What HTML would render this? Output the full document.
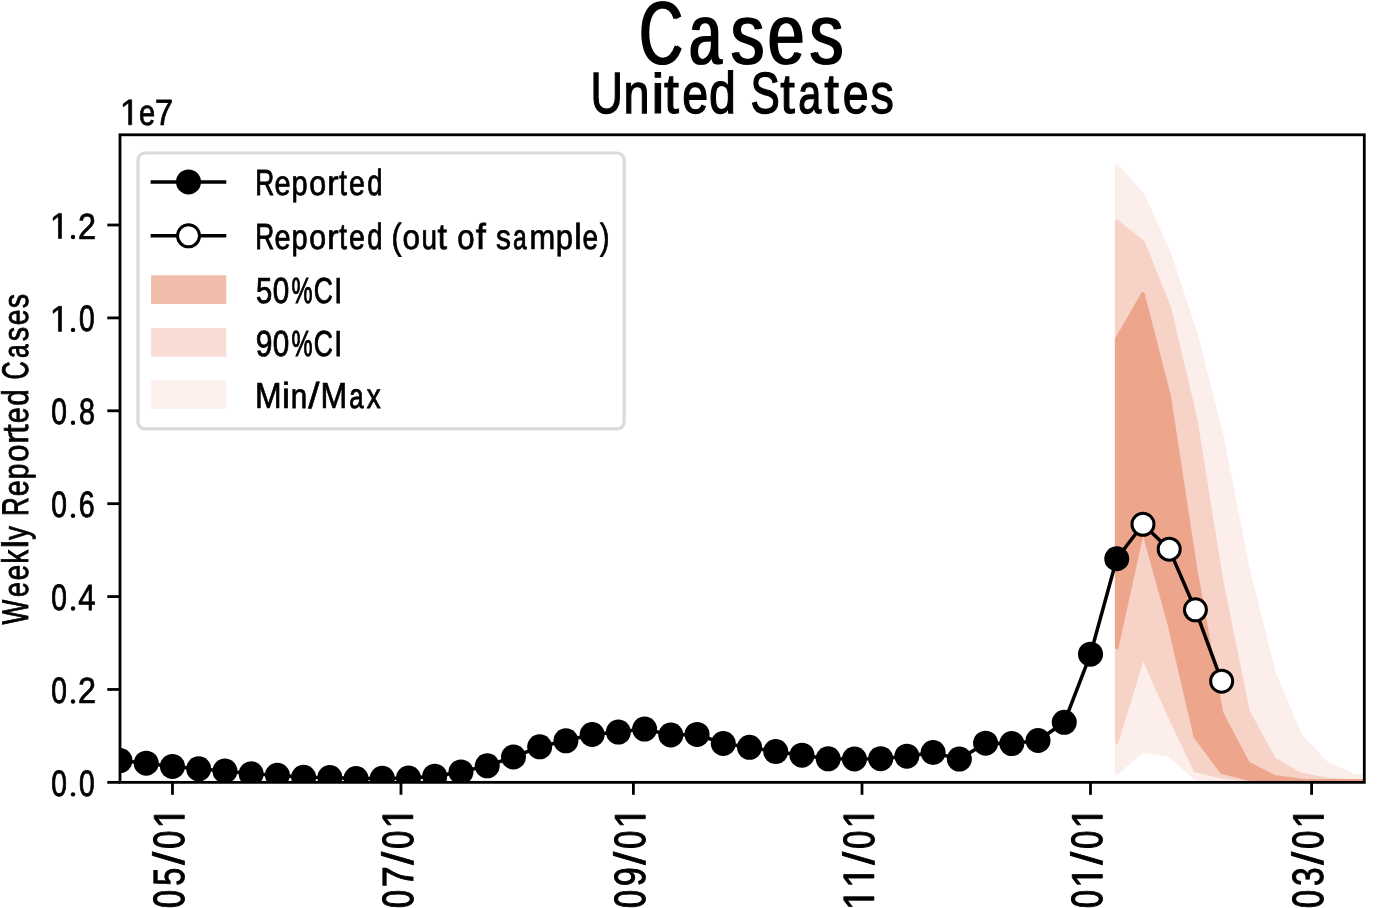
<!DOCTYPE html><html><head><meta charset="utf-8"><style>html,body{margin:0;padding:0;background:#fff;}svg{display:block;will-change:transform;}text{font-family:"Liberation Sans", sans-serif;fill:#000;stroke:#000;-webkit-font-smoothing:antialiased;text-rendering:geometricPrecision;font-kerning:none;font-variant-ligatures:none;}</style></head><body>
<svg width="1400" height="908" viewBox="0 0 1400 908">
<rect x="0" y="0" width="1400" height="908" fill="#fff"/>
<defs><clipPath id="ax"><rect x="120" y="134.8" width="1244.3" height="647.55"/></clipPath></defs>
<g clip-path="url(#ax)">
<polygon points="1116.7,165.5 1142.9,194.9 1169.2,253.2 1195.4,332.2 1221.6,435.2 1247.9,568.2 1274.1,673.2 1300.3,735.2 1326.5,763.2 1352.8,775.2 1379.0,778.2 1379.0,780.8 1352.8,780.8 1326.5,780.8 1300.3,780.8 1274.1,780.8 1247.9,780.6 1221.6,779.8 1195.4,778.3 1169.2,755.2 1142.9,750.9 1116.7,772.9" fill="#fcefeb" stroke="#fcefeb" stroke-width="3.60" stroke-linejoin="round"/>
<polygon points="1116.7,221.4 1142.9,242.1 1169.2,307.2 1195.4,418.2 1221.6,581.2 1247.9,711.2 1274.1,759.2 1300.3,774.2 1326.5,779.2 1352.8,781.2 1379.0,782.2 1379.0,780.8 1352.8,780.8 1326.5,780.8 1300.3,780.8 1274.1,780.6 1247.9,779.8 1221.6,776.8 1195.4,770.6 1169.2,715.4 1142.9,656.8 1116.7,742.1" fill="#f6d2c7" stroke="#f6d2c7" stroke-width="3.60" stroke-linejoin="round"/>
<polygon points="1116.7,339.2 1142.9,294.0 1169.2,396.2 1195.4,568.2 1221.6,713.2 1247.9,763.2 1274.1,776.7 1300.3,780.2 1326.5,782.2 1352.8,782.7 1379.0,783.2 1379.0,780.8 1352.8,780.8 1326.5,780.8 1300.3,780.6 1274.1,780.3 1247.9,778.8 1221.6,772.1 1195.4,736.8 1169.2,623.8 1142.9,528.8 1116.7,647.6" fill="#eda58c" stroke="#eda58c" stroke-width="3.60" stroke-linejoin="round"/>
<polyline points="120.00,760.60 146.23,763.20 172.46,766.40 198.69,768.80 224.92,771.00 251.15,773.80 277.38,775.30 303.61,777.30 329.84,777.50 356.07,778.60 382.30,778.25 408.53,778.10 434.76,776.20 460.99,771.90 487.22,765.80 513.45,757.00 539.68,746.80 565.91,740.80 592.14,734.50 618.37,732.06 644.60,729.10 670.83,735.00 697.06,734.40 723.29,743.50 749.52,747.30 775.75,751.60 801.98,755.15 828.21,758.80 854.44,759.00 880.67,758.70 906.90,756.20 933.13,752.50 959.36,759.10 985.59,743.20 1011.82,743.60 1038.05,740.50 1064.28,722.30 1090.51,654.20 1116.74,558.75 1142.97,524.30 1169.20,549.15 1195.43,609.80 1221.66,681.20" fill="none" stroke="#000" stroke-width="3.5" stroke-linejoin="round"/>
<circle cx="120.00" cy="760.60" r="12.5" fill="#000"/>
<circle cx="146.23" cy="763.20" r="12.5" fill="#000"/>
<circle cx="172.46" cy="766.40" r="12.5" fill="#000"/>
<circle cx="198.69" cy="768.80" r="12.5" fill="#000"/>
<circle cx="224.92" cy="771.00" r="12.5" fill="#000"/>
<circle cx="251.15" cy="773.80" r="12.5" fill="#000"/>
<circle cx="277.38" cy="775.30" r="12.5" fill="#000"/>
<circle cx="303.61" cy="777.30" r="12.5" fill="#000"/>
<circle cx="329.84" cy="777.50" r="12.5" fill="#000"/>
<circle cx="356.07" cy="778.60" r="12.5" fill="#000"/>
<circle cx="382.30" cy="778.25" r="12.5" fill="#000"/>
<circle cx="408.53" cy="778.10" r="12.5" fill="#000"/>
<circle cx="434.76" cy="776.20" r="12.5" fill="#000"/>
<circle cx="460.99" cy="771.90" r="12.5" fill="#000"/>
<circle cx="487.22" cy="765.80" r="12.5" fill="#000"/>
<circle cx="513.45" cy="757.00" r="12.5" fill="#000"/>
<circle cx="539.68" cy="746.80" r="12.5" fill="#000"/>
<circle cx="565.91" cy="740.80" r="12.5" fill="#000"/>
<circle cx="592.14" cy="734.50" r="12.5" fill="#000"/>
<circle cx="618.37" cy="732.06" r="12.5" fill="#000"/>
<circle cx="644.60" cy="729.10" r="12.5" fill="#000"/>
<circle cx="670.83" cy="735.00" r="12.5" fill="#000"/>
<circle cx="697.06" cy="734.40" r="12.5" fill="#000"/>
<circle cx="723.29" cy="743.50" r="12.5" fill="#000"/>
<circle cx="749.52" cy="747.30" r="12.5" fill="#000"/>
<circle cx="775.75" cy="751.60" r="12.5" fill="#000"/>
<circle cx="801.98" cy="755.15" r="12.5" fill="#000"/>
<circle cx="828.21" cy="758.80" r="12.5" fill="#000"/>
<circle cx="854.44" cy="759.00" r="12.5" fill="#000"/>
<circle cx="880.67" cy="758.70" r="12.5" fill="#000"/>
<circle cx="906.90" cy="756.20" r="12.5" fill="#000"/>
<circle cx="933.13" cy="752.50" r="12.5" fill="#000"/>
<circle cx="959.36" cy="759.10" r="12.5" fill="#000"/>
<circle cx="985.59" cy="743.20" r="12.5" fill="#000"/>
<circle cx="1011.82" cy="743.60" r="12.5" fill="#000"/>
<circle cx="1038.05" cy="740.50" r="12.5" fill="#000"/>
<circle cx="1064.28" cy="722.30" r="12.5" fill="#000"/>
<circle cx="1090.51" cy="654.20" r="12.5" fill="#000"/>
<circle cx="1116.74" cy="558.75" r="12.5" fill="#000"/>
<circle cx="1142.97" cy="524.30" r="11" fill="#fff" stroke="#000" stroke-width="3"/>
<circle cx="1169.20" cy="549.15" r="11" fill="#fff" stroke="#000" stroke-width="3"/>
<circle cx="1195.43" cy="609.80" r="11" fill="#fff" stroke="#000" stroke-width="3"/>
<circle cx="1221.66" cy="681.20" r="11" fill="#fff" stroke="#000" stroke-width="3"/>
</g>
<rect x="120" y="134.8" width="1244.3" height="647.55" fill="none" stroke="#000" stroke-width="2.8"/>
<line x1="107.3" y1="782.35" x2="120" y2="782.35" stroke="#000" stroke-width="2.8"/>
<text x="0" y="0" text-anchor="middle" font-size="36.50" stroke-width="0.85" transform="translate(59.150,795.850) scale(0.77046,1)">0</text>
<circle cx="73.00" cy="794.35" r="2.20" fill="#000"/>
<text x="0" y="0" text-anchor="middle" font-size="36.50" stroke-width="0.85" transform="translate(86.900,795.850) scale(0.77046,1)">0</text>
<line x1="107.3" y1="689.46" x2="120" y2="689.46" stroke="#000" stroke-width="2.8"/>
<text x="0" y="0" text-anchor="middle" font-size="36.50" stroke-width="0.85" transform="translate(59.150,702.960) scale(0.77046,1)">0</text>
<circle cx="73.00" cy="701.46" r="2.20" fill="#000"/>
<text x="0" y="0" text-anchor="middle" font-size="36.50" stroke-width="0.74" transform="translate(86.900,702.960) scale(0.88663,1)">2</text>
<line x1="107.3" y1="596.57" x2="120" y2="596.57" stroke="#000" stroke-width="2.8"/>
<text x="0" y="0" text-anchor="middle" font-size="36.50" stroke-width="0.85" transform="translate(59.150,610.070) scale(0.77046,1)">0</text>
<circle cx="73.00" cy="608.57" r="2.20" fill="#000"/>
<text x="0" y="0" text-anchor="middle" font-size="36.50" stroke-width="0.77" transform="translate(86.999,610.070) scale(0.85051,1)">4</text>
<line x1="107.3" y1="503.68" x2="120" y2="503.68" stroke="#000" stroke-width="2.8"/>
<text x="0" y="0" text-anchor="middle" font-size="36.50" stroke-width="0.85" transform="translate(59.150,517.180) scale(0.77046,1)">0</text>
<circle cx="73.00" cy="515.68" r="2.20" fill="#000"/>
<text x="0" y="0" text-anchor="middle" font-size="36.50" stroke-width="0.84" transform="translate(86.802,517.180) scale(0.78631,1)">6</text>
<line x1="107.3" y1="410.79" x2="120" y2="410.79" stroke="#000" stroke-width="2.8"/>
<text x="0" y="0" text-anchor="middle" font-size="36.50" stroke-width="0.85" transform="translate(59.150,424.290) scale(0.77046,1)">0</text>
<circle cx="73.00" cy="422.79" r="2.20" fill="#000"/>
<text x="0" y="0" text-anchor="middle" font-size="36.50" stroke-width="0.84" transform="translate(86.900,424.290) scale(0.78489,1)">8</text>
<line x1="107.3" y1="317.90" x2="120" y2="317.90" stroke="#000" stroke-width="2.8"/>
<path d="M515,0 L515,1237 L197,1010 L197,1180 L530,1409 L696,1409 L696,0 Z" transform="translate(49.835,331.400) scale(0.016719,-0.017822)" fill="#000" stroke="#000" stroke-width="0.66" vector-effect="non-scaling-stroke"/>
<circle cx="73.00" cy="329.90" r="2.20" fill="#000"/>
<text x="0" y="0" text-anchor="middle" font-size="36.50" stroke-width="0.85" transform="translate(86.900,331.400) scale(0.77046,1)">0</text>
<line x1="107.3" y1="225.01" x2="120" y2="225.01" stroke="#000" stroke-width="2.8"/>
<path d="M515,0 L515,1237 L197,1010 L197,1180 L530,1409 L696,1409 L696,0 Z" transform="translate(49.835,238.510) scale(0.016719,-0.017822)" fill="#000" stroke="#000" stroke-width="0.66" vector-effect="non-scaling-stroke"/>
<circle cx="73.00" cy="237.01" r="2.20" fill="#000"/>
<text x="0" y="0" text-anchor="middle" font-size="36.50" stroke-width="0.74" transform="translate(86.900,238.510) scale(0.88663,1)">2</text>
<line x1="172.46" y1="782.35" x2="172.46" y2="794.8" stroke="#000" stroke-width="2.8"/>
<g transform="translate(184.33,0) rotate(-90)"><text x="0" y="0" text-anchor="middle" font-size="43.80" stroke-width="1.06" transform="translate(-899.000,0.000) scale(0.74085,1)">0</text><text x="0" y="0" text-anchor="middle" font-size="43.80" stroke-width="1.06" transform="translate(-876.768,0.000) scale(0.74214,1)">5</text><text x="0" y="0" text-anchor="middle" font-size="43.80" stroke-width="0.74" transform="translate(-858.400,0.000) scale(1.06102,1)">/</text><text x="0" y="0" text-anchor="middle" font-size="43.80" stroke-width="1.06" transform="translate(-839.800,0.000) scale(0.74085,1)">0</text><path d="M515,0 L515,1237 L197,1010 L197,1180 L530,1409 L696,1409 L696,0 Z" transform="translate(-828.690,0.000) scale(0.019462,-0.021387)" fill="#000" stroke="#000" stroke-width="0.79" vector-effect="non-scaling-stroke"/></g>
<line x1="400.97" y1="782.35" x2="400.97" y2="794.8" stroke="#000" stroke-width="2.8"/>
<g transform="translate(412.84,0) rotate(-90)"><text x="0" y="0" text-anchor="middle" font-size="43.80" stroke-width="1.06" transform="translate(-899.000,0.000) scale(0.74085,1)">0</text><text x="0" y="0" text-anchor="middle" font-size="43.80" stroke-width="0.91" transform="translate(-876.818,0.000) scale(0.86443,1)">7</text><text x="0" y="0" text-anchor="middle" font-size="43.80" stroke-width="0.74" transform="translate(-858.400,0.000) scale(1.06102,1)">/</text><text x="0" y="0" text-anchor="middle" font-size="43.80" stroke-width="1.06" transform="translate(-839.800,0.000) scale(0.74085,1)">0</text><path d="M515,0 L515,1237 L197,1010 L197,1180 L530,1409 L696,1409 L696,0 Z" transform="translate(-828.690,0.000) scale(0.019462,-0.021387)" fill="#000" stroke="#000" stroke-width="0.79" vector-effect="non-scaling-stroke"/></g>
<line x1="633.40" y1="782.35" x2="633.40" y2="794.8" stroke="#000" stroke-width="2.8"/>
<g transform="translate(645.27,0) rotate(-90)"><text x="0" y="0" text-anchor="middle" font-size="43.80" stroke-width="1.06" transform="translate(-899.000,0.000) scale(0.74085,1)">0</text><text x="0" y="0" text-anchor="middle" font-size="43.80" stroke-width="1.01" transform="translate(-876.792,0.000) scale(0.78399,1)">9</text><text x="0" y="0" text-anchor="middle" font-size="43.80" stroke-width="0.74" transform="translate(-858.400,0.000) scale(1.06102,1)">/</text><text x="0" y="0" text-anchor="middle" font-size="43.80" stroke-width="1.06" transform="translate(-839.800,0.000) scale(0.74085,1)">0</text><path d="M515,0 L515,1237 L197,1010 L197,1180 L530,1409 L696,1409 L696,0 Z" transform="translate(-828.690,0.000) scale(0.019462,-0.021387)" fill="#000" stroke="#000" stroke-width="0.79" vector-effect="non-scaling-stroke"/></g>
<line x1="862.00" y1="782.35" x2="862.00" y2="794.8" stroke="#000" stroke-width="2.8"/>
<g transform="translate(873.87,0) rotate(-90)"><path d="M515,0 L515,1237 L197,1010 L197,1180 L530,1409 L696,1409 L696,0 Z" transform="translate(-910.290,0.000) scale(0.019462,-0.021387)" fill="#000" stroke="#000" stroke-width="0.79" vector-effect="non-scaling-stroke"/><path d="M515,0 L515,1237 L197,1010 L197,1180 L530,1409 L696,1409 L696,0 Z" transform="translate(-888.090,0.000) scale(0.019462,-0.021387)" fill="#000" stroke="#000" stroke-width="0.79" vector-effect="non-scaling-stroke"/><text x="0" y="0" text-anchor="middle" font-size="43.80" stroke-width="0.74" transform="translate(-858.400,0.000) scale(1.06102,1)">/</text><text x="0" y="0" text-anchor="middle" font-size="43.80" stroke-width="1.06" transform="translate(-839.800,0.000) scale(0.74085,1)">0</text><path d="M515,0 L515,1237 L197,1010 L197,1180 L530,1409 L696,1409 L696,0 Z" transform="translate(-828.690,0.000) scale(0.019462,-0.021387)" fill="#000" stroke="#000" stroke-width="0.79" vector-effect="non-scaling-stroke"/></g>
<line x1="1090.50" y1="782.35" x2="1090.50" y2="794.8" stroke="#000" stroke-width="2.8"/>
<g transform="translate(1102.37,0) rotate(-90)"><text x="0" y="0" text-anchor="middle" font-size="43.80" stroke-width="1.06" transform="translate(-899.000,0.000) scale(0.74085,1)">0</text><path d="M515,0 L515,1237 L197,1010 L197,1180 L530,1409 L696,1409 L696,0 Z" transform="translate(-888.090,0.000) scale(0.019462,-0.021387)" fill="#000" stroke="#000" stroke-width="0.79" vector-effect="non-scaling-stroke"/><text x="0" y="0" text-anchor="middle" font-size="43.80" stroke-width="0.74" transform="translate(-858.400,0.000) scale(1.06102,1)">/</text><text x="0" y="0" text-anchor="middle" font-size="43.80" stroke-width="1.06" transform="translate(-839.800,0.000) scale(0.74085,1)">0</text><path d="M515,0 L515,1237 L197,1010 L197,1180 L530,1409 L696,1409 L696,0 Z" transform="translate(-828.690,0.000) scale(0.019462,-0.021387)" fill="#000" stroke="#000" stroke-width="0.79" vector-effect="non-scaling-stroke"/></g>
<line x1="1311.60" y1="782.35" x2="1311.60" y2="794.8" stroke="#000" stroke-width="2.8"/>
<g transform="translate(1323.47,0) rotate(-90)"><text x="0" y="0" text-anchor="middle" font-size="43.80" stroke-width="1.06" transform="translate(-899.000,0.000) scale(0.74085,1)">0</text><text x="0" y="0" text-anchor="middle" font-size="43.80" stroke-width="1.03" transform="translate(-876.702,0.000) scale(0.76381,1)">3</text><text x="0" y="0" text-anchor="middle" font-size="43.80" stroke-width="0.74" transform="translate(-858.400,0.000) scale(1.06102,1)">/</text><text x="0" y="0" text-anchor="middle" font-size="43.80" stroke-width="1.06" transform="translate(-839.800,0.000) scale(0.74085,1)">0</text><path d="M515,0 L515,1237 L197,1010 L197,1180 L530,1409 L696,1409 L696,0 Z" transform="translate(-828.690,0.000) scale(0.019462,-0.021387)" fill="#000" stroke="#000" stroke-width="0.79" vector-effect="non-scaling-stroke"/></g>
<path d="M515,0 L515,1237 L197,1010 L197,1180 L530,1409 L696,1409 L696,0 Z" transform="translate(119.838,124.860) scale(0.017004,-0.017773)" fill="#000" stroke="#000" stroke-width="0.66" vector-effect="non-scaling-stroke"/>
<text x="0" y="0" text-anchor="middle" font-size="36.40" stroke-width="0.82" transform="translate(147.178,124.860) scale(0.79886,1)">e</text>
<text x="0" y="0" text-anchor="middle" font-size="36.40" stroke-width="0.74" transform="translate(163.984,124.860) scale(0.89108,1)">7</text>
<g transform="translate(27.67,0) rotate(-90)"><text x="0" y="0" text-anchor="middle" font-size="36.97" stroke-width="0.94" transform="translate(-612.213,0.000) scale(0.70898,1)">W</text><text x="0" y="0" text-anchor="middle" font-size="35.49" stroke-width="0.88" transform="translate(-589.674,0.000) scale(0.75265,1)">e</text><text x="0" y="0" text-anchor="middle" font-size="35.49" stroke-width="0.85" transform="translate(-572.523,0.000) scale(0.78268,1)">e</text><text x="0" y="0" text-anchor="middle" font-size="36.97" stroke-width="0.90" transform="translate(-556.689,0.000) scale(0.73745,1)">k</text><text x="0" y="0" text-anchor="middle" font-size="36.97" stroke-width="0.61" transform="translate(-544.110,0.000) scale(1.08778,1)">l</text><text x="0" y="0" text-anchor="middle" font-size="35.49" stroke-width="0.87" transform="translate(-532.957,0.000) scale(0.76378,1)">y</text><text x="0" y="0" text-anchor="middle" font-size="36.97" stroke-width="0.95" transform="translate(-506.713,0.000) scale(0.70314,1)">R</text><text x="0" y="0" text-anchor="middle" font-size="35.49" stroke-width="0.82" transform="translate(-488.172,0.000) scale(0.81270,1)">e</text><text x="0" y="0" text-anchor="middle" font-size="35.49" stroke-width="0.85" transform="translate(-471.513,0.000) scale(0.78534,1)">p</text><text x="0" y="0" text-anchor="middle" font-size="35.49" stroke-width="0.76" transform="translate(-453.250,0.000) scale(0.87330,1)">o</text><text x="0" y="0" text-anchor="middle" font-size="35.49" stroke-width="0.72" transform="translate(-438.270,0.000) scale(0.92807,1)">r</text><text x="0" y="0" text-anchor="middle" font-size="36.97" stroke-width="0.72" transform="translate(-428.934,0.000) scale(0.92516,1)">t</text><text x="0" y="0" text-anchor="middle" font-size="35.49" stroke-width="0.82" transform="translate(-415.222,0.000) scale(0.80669,1)">e</text><text x="0" y="0" text-anchor="middle" font-size="36.97" stroke-width="0.83" transform="translate(-397.567,0.000) scale(0.80205,1)">d</text><text x="0" y="0" text-anchor="middle" font-size="36.97" stroke-width="0.98" transform="translate(-370.360,0.000) scale(0.68058,1)">C</text><text x="0" y="0" text-anchor="middle" font-size="35.49" stroke-width="0.96" transform="translate(-351.272,0.000) scale(0.69303,1)">a</text><text x="0" y="0" text-anchor="middle" font-size="35.49" stroke-width="0.82" transform="translate(-334.081,0.000) scale(0.80996,1)">s</text><text x="0" y="0" text-anchor="middle" font-size="35.49" stroke-width="0.83" transform="translate(-317.372,0.000) scale(0.80069,1)">e</text><text x="0" y="0" text-anchor="middle" font-size="35.49" stroke-width="0.82" transform="translate(-301.181,0.000) scale(0.80996,1)">s</text></g>
<text x="0" y="0" text-anchor="middle" font-size="89.80" stroke-width="0.00" transform="translate(659.993,63.600) scale(0.67082,1)">C</text><text x="0" y="0" text-anchor="middle" font-size="89.80" stroke-width="0.00" transform="translate(662.293,63.600) scale(0.67082,1)">C</text>
<text x="0" y="0" text-anchor="middle" font-size="86.90" stroke-width="0.00" transform="translate(704.228,63.600) scale(0.67543,1)">a</text><text x="0" y="0" text-anchor="middle" font-size="86.90" stroke-width="0.00" transform="translate(706.528,63.600) scale(0.67543,1)">a</text>
<text x="0" y="0" text-anchor="middle" font-size="86.90" stroke-width="0.00" transform="translate(746.327,63.600) scale(0.76798,1)">s</text><text x="0" y="0" text-anchor="middle" font-size="86.90" stroke-width="0.00" transform="translate(748.627,63.600) scale(0.76798,1)">s</text>
<text x="0" y="0" text-anchor="middle" font-size="86.90" stroke-width="0.00" transform="translate(785.064,63.600) scale(0.75533,1)">e</text><text x="0" y="0" text-anchor="middle" font-size="86.90" stroke-width="0.00" transform="translate(787.364,63.600) scale(0.75533,1)">e</text>
<text x="0" y="0" text-anchor="middle" font-size="86.90" stroke-width="0.00" transform="translate(825.280,63.600) scale(0.77590,1)">s</text><text x="0" y="0" text-anchor="middle" font-size="86.90" stroke-width="0.00" transform="translate(827.580,63.600) scale(0.77590,1)">s</text>
<text x="0" y="0" text-anchor="middle" font-size="58.26" stroke-width="1.36" transform="translate(606.650,113.100) scale(0.76925,1)">U</text>
<text x="0" y="0" text-anchor="middle" font-size="56.00" stroke-width="1.26" transform="translate(636.416,113.100) scale(0.83442,1)">n</text>
<text x="0" y="0" text-anchor="middle" font-size="55.80" stroke-width="0.94" transform="translate(657.865,113.100) scale(1.11127,1)">i</text>
<text x="0" y="0" text-anchor="middle" font-size="56.00" stroke-width="1.09" transform="translate(671.490,113.100) scale(0.96149,1)">t</text>
<text x="0" y="0" text-anchor="middle" font-size="56.00" stroke-width="1.26" transform="translate(695.195,113.100) scale(0.83151,1)">e</text>
<text x="0" y="0" text-anchor="middle" font-size="58.35" stroke-width="1.27" transform="translate(722.543,113.100) scale(0.82887,1)">d</text>
<text x="0" y="0" text-anchor="middle" font-size="58.26" stroke-width="1.39" transform="translate(765.161,113.100) scale(0.75285,1)">S</text>
<text x="0" y="0" text-anchor="middle" font-size="56.00" stroke-width="1.12" transform="translate(787.644,113.100) scale(0.94051,1)">t</text>
<text x="0" y="0" text-anchor="middle" font-size="56.00" stroke-width="1.42" transform="translate(809.671,113.100) scale(0.73873,1)">a</text>
<text x="0" y="0" text-anchor="middle" font-size="56.00" stroke-width="1.11" transform="translate(831.693,113.100) scale(0.94750,1)">t</text>
<text x="0" y="0" text-anchor="middle" font-size="56.00" stroke-width="1.26" transform="translate(855.695,113.100) scale(0.83151,1)">e</text>
<text x="0" y="0" text-anchor="middle" font-size="56.00" stroke-width="1.26" transform="translate(882.094,113.100) scale(0.83340,1)">s</text>
<rect x="138.0" y="153.0" width="486.15" height="275.9" rx="7" ry="7" fill="#fff" fill-opacity="0.8" stroke="#dadada" stroke-width="3.2"/>
<line x1="150.6" y1="181.9" x2="226.3" y2="181.9" stroke="#000" stroke-width="3.5"/>
<circle cx="188.5" cy="181.9" r="12.5" fill="#000"/>
<line x1="150.6" y1="235.8" x2="226.3" y2="235.8" stroke="#000" stroke-width="3.5"/>
<circle cx="188.5" cy="235.8" r="11" fill="#fff" stroke="#000" stroke-width="3"/>
<rect x="151.1" y="275.3" width="75.2" height="28.7" fill="#f1bca9"/>
<rect x="151.1" y="328" width="75.2" height="28.7" fill="#f8ddd5"/>
<rect x="151.1" y="380.2" width="75.2" height="28.7" fill="#fcf0ed"/>
<text x="0" y="0" text-anchor="middle" font-size="36.26" stroke-width="0.90" transform="translate(264.680,194.674) scale(0.72679,1)">R</text>
<text x="0" y="0" text-anchor="middle" font-size="34.81" stroke-width="0.79" transform="translate(282.528,194.674) scale(0.82939,1)">e</text>
<text x="0" y="0" text-anchor="middle" font-size="34.81" stroke-width="0.78" transform="translate(299.524,194.674) scale(0.83348,1)">p</text>
<text x="0" y="0" text-anchor="middle" font-size="34.81" stroke-width="0.75" transform="translate(317.600,194.674) scale(0.87292,1)">o</text>
<text x="0" y="0" text-anchor="middle" font-size="34.81" stroke-width="0.65" transform="translate(332.829,194.674) scale(1.00516,1)">r</text>
<text x="0" y="0" text-anchor="middle" font-size="36.26" stroke-width="0.86" transform="translate(343.042,194.674) scale(0.76107,1)">t</text>
<text x="0" y="0" text-anchor="middle" font-size="34.81" stroke-width="0.79" transform="translate(357.078,194.674) scale(0.82327,1)">e</text>
<text x="0" y="0" text-anchor="middle" font-size="36.26" stroke-width="0.86" transform="translate(374.808,194.674) scale(0.75721,1)">d</text>
<text x="0" y="0" text-anchor="middle" font-size="36.26" stroke-width="0.90" transform="translate(264.680,249.424) scale(0.72679,1)">R</text>
<text x="0" y="0" text-anchor="middle" font-size="34.81" stroke-width="0.79" transform="translate(282.528,249.424) scale(0.82939,1)">e</text>
<text x="0" y="0" text-anchor="middle" font-size="34.81" stroke-width="0.78" transform="translate(299.524,249.424) scale(0.83348,1)">p</text>
<text x="0" y="0" text-anchor="middle" font-size="34.81" stroke-width="0.75" transform="translate(317.600,249.424) scale(0.87292,1)">o</text>
<text x="0" y="0" text-anchor="middle" font-size="34.81" stroke-width="0.65" transform="translate(332.829,249.424) scale(1.00516,1)">r</text>
<text x="0" y="0" text-anchor="middle" font-size="36.26" stroke-width="0.86" transform="translate(343.042,249.424) scale(0.76107,1)">t</text>
<text x="0" y="0" text-anchor="middle" font-size="34.81" stroke-width="0.79" transform="translate(357.078,249.424) scale(0.82327,1)">e</text>
<text x="0" y="0" text-anchor="middle" font-size="36.26" stroke-width="0.86" transform="translate(374.808,249.424) scale(0.75721,1)">d</text>
<text x="0" y="0" text-anchor="middle" font-size="36.26" stroke-width="0.79" transform="translate(396.558,249.424) scale(0.82665,1)">(</text>
<text x="0" y="0" text-anchor="middle" font-size="34.81" stroke-width="0.72" transform="translate(411.150,249.424) scale(0.90334,1)">o</text>
<text x="0" y="0" text-anchor="middle" font-size="34.81" stroke-width="0.81" transform="translate(429.370,249.424) scale(0.80118,1)">u</text>
<text x="0" y="0" text-anchor="middle" font-size="36.26" stroke-width="0.69" transform="translate(442.266,249.424) scale(0.94466,1)">t</text>
<text x="0" y="0" text-anchor="middle" font-size="34.81" stroke-width="0.73" transform="translate(466.000,249.424) scale(0.89726,1)">o</text>
<text x="0" y="0" text-anchor="middle" font-size="36.26" stroke-width="0.65" transform="translate(480.866,249.424) scale(1.00348,1)">f</text>
<text x="0" y="0" text-anchor="middle" font-size="34.81" stroke-width="0.76" transform="translate(503.574,249.424) scale(0.85961,1)">s</text>
<text x="0" y="0" text-anchor="middle" font-size="34.81" stroke-width="0.92" transform="translate(519.827,249.424) scale(0.70732,1)">a</text>
<text x="0" y="0" text-anchor="middle" font-size="34.81" stroke-width="0.74" transform="translate(542.442,249.424) scale(0.88753,1)">m</text>
<text x="0" y="0" text-anchor="middle" font-size="34.81" stroke-width="0.73" transform="translate(564.352,249.424) scale(0.89097,1)">p</text>
<text x="0" y="0" text-anchor="middle" font-size="36.26" stroke-width="0.66" transform="translate(578.091,249.424) scale(0.98758,1)">l</text>
<text x="0" y="0" text-anchor="middle" font-size="34.81" stroke-width="0.81" transform="translate(590.327,249.424) scale(0.80491,1)">e</text>
<text x="0" y="0" text-anchor="middle" font-size="36.26" stroke-width="0.83" transform="translate(604.799,249.424) scale(0.78505,1)">)</text>
<text x="0" y="0" text-anchor="middle" font-size="36.26" stroke-width="0.81" transform="translate(264.179,303.274) scale(0.80547,1)">5</text>
<text x="0" y="0" text-anchor="middle" font-size="36.26" stroke-width="0.80" transform="translate(281.000,303.274) scale(0.81619,1)">0</text>
<text x="0" y="0" text-anchor="middle" font-size="36.26" stroke-width="1.00" transform="translate(301.900,303.274) scale(0.65239,1)">%</text>
<text x="0" y="0" text-anchor="middle" font-size="36.26" stroke-width="0.89" transform="translate(323.232,303.274) scale(0.72930,1)">C</text>
<text x="0" y="0" text-anchor="middle" font-size="36.26" stroke-width="0.78" transform="translate(338.350,303.274) scale(0.84199,1)">I</text>
<text x="0" y="0" text-anchor="middle" font-size="36.26" stroke-width="0.79" transform="translate(264.157,355.574) scale(0.82675,1)">9</text>
<text x="0" y="0" text-anchor="middle" font-size="36.26" stroke-width="0.80" transform="translate(281.000,355.574) scale(0.81619,1)">0</text>
<text x="0" y="0" text-anchor="middle" font-size="36.26" stroke-width="1.00" transform="translate(301.900,355.574) scale(0.65239,1)">%</text>
<text x="0" y="0" text-anchor="middle" font-size="36.26" stroke-width="0.89" transform="translate(323.232,355.574) scale(0.72930,1)">C</text>
<text x="0" y="0" text-anchor="middle" font-size="36.26" stroke-width="0.78" transform="translate(338.350,355.574) scale(0.84199,1)">I</text>
<text x="0" y="0" text-anchor="middle" font-size="36.26" stroke-width="0.74" transform="translate(268.275,408.124) scale(0.88215,1)">M</text>
<text x="0" y="0" text-anchor="middle" font-size="36.26" stroke-width="0.62" transform="translate(285.909,408.124) scale(1.05033,1)">i</text>
<text x="0" y="0" text-anchor="middle" font-size="34.81" stroke-width="0.77" transform="translate(298.878,408.124) scale(0.84852,1)">n</text>
<text x="0" y="0" text-anchor="middle" font-size="36.26" stroke-width="0.58" transform="translate(313.950,408.124) scale(1.11645,1)">/</text>
<text x="0" y="0" text-anchor="middle" font-size="36.26" stroke-width="0.74" transform="translate(333.950,408.124) scale(0.88421,1)">M</text>
<text x="0" y="0" text-anchor="middle" font-size="34.81" stroke-width="0.88" transform="translate(356.502,408.124) scale(0.74087,1)">a</text>
<text x="0" y="0" text-anchor="middle" font-size="34.81" stroke-width="0.82" transform="translate(373.768,408.124) scale(0.79912,1)">x</text>
</svg></body></html>
